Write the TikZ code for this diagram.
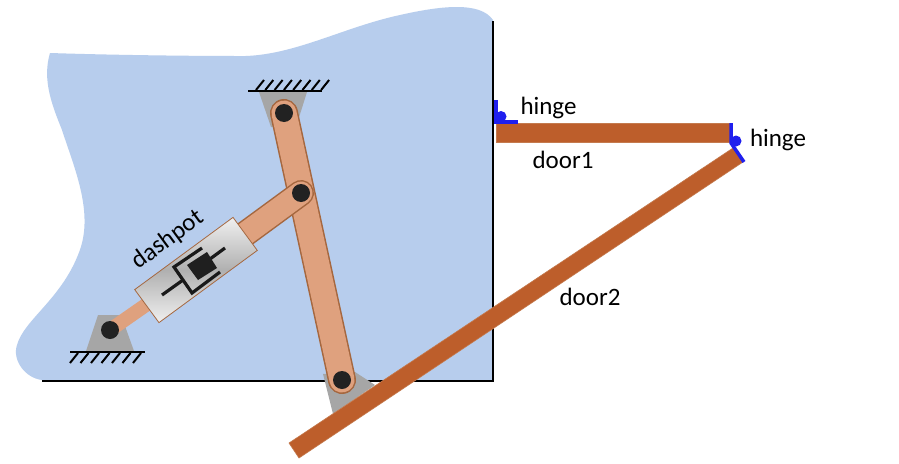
\documentclass[tikz,border=0pt]{standalone}
\usepackage{fontspec}
\setmainfont{Carlito}
\definecolor{regionblue}{HTML}{B7CDED}
\definecolor{linkfill}{HTML}{DFA17E}
\definecolor{linkedge}{HTML}{A5673F}
\definecolor{doorfill}{HTML}{BD5E2B}
\definecolor{doorEdge}{HTML}{C47A4E}
\definecolor{supportgray}{HTML}{A6A6A6}
\definecolor{pivotblack}{HTML}{222222}
\definecolor{hingeblue}{HTML}{1F1FEE}
\definecolor{dashmid}{HTML}{B0B0B0}
\definecolor{dashlight}{HTML}{F0F0F0}
\tikzset{
  x=1pt,y=-1pt,
  support/.style={fill=supportgray,draw=none},
  pivot/.style={circle,fill=pivotblack,draw=none,minimum size=18pt,inner sep=0pt},
  ground/.style={draw=black,line width=2.2pt},
  hatch/.style={draw=black,line width=2pt},
  wall/.style={draw=black,line width=2pt},
  door/.style={fill=doorfill,draw=doorEdge,line width=0.6pt},
  hingeline/.style={draw=hingeblue,line width=3.5pt},
  hingedot/.style={circle,fill=hingeblue,draw=none,inner sep=0pt},
  label/.style={inner sep=0pt,font=\fontsize{25}{25}\selectfont,text=black},
  symb/.style={draw=black!90,line width=3.2pt},
}
\newcommand{\linkbar}[3]{%
  \draw[linkedge,line width=#3pt,line cap=round] (#1)--(#2);
  \draw[linkfill,line width=\the\numexpr#3-3\relax pt,line cap=round] (#1)--(#2);}
\begin{document}
\begin{tikzpicture}
\useasboundingbox (0,0) rectangle (899,463);
\fill[white] (0,0) rectangle (899,463);
% region
\fill[regionblue] (50,53) .. controls (110,55) and (190,56) .. (235,56)
  .. controls (290,58) and (340,28) .. (400,15)
  .. controls (440,6) and (480,1) .. (493,20)
  -- (493,380) -- (42,380)
  .. controls (25,378) and (12,360) .. (17,345)
  .. controls (24,320) and (60,300) .. (78,255)
  .. controls (95,215) and (75,170) .. (62,130)
  .. controls (52,105) and (42,80) .. (50,53) -- cycle;
\draw[wall] (493,21) -- (493,381) -- (42,381);
% supports
\fill[support] (259,92) -- (307,92) -- (296,127) -- (271,127) -- cycle;
\fill[support] (98,315) -- (121,315) -- (134,351) -- (86,351) -- cycle;
\fill[support] (323,374) -- (355,372) -- (375,385) -- (333,414) -- cycle;
% ground symbols
\draw[ground] (248,91) -- (322,91);
\foreach \i in {0,...,7} \draw[hatch] (256+\i*9.3,90) -- (264+\i*9.3,80);
\draw[ground] (70,352) -- (145,352);
\foreach \i in {0,...,6} \draw[hatch] (78+\i*10.5,353) -- (70+\i*10.5,363);
% pivots' positions
\coordinate (pA) at (284,113);
\coordinate (pB) at (342,380);
\coordinate (pC) at (301,193);
\coordinate (pD) at (110,330);
\coordinate (dashc) at (196,270);
% links
\linkbar{pA}{pB}{28}
\draw[linkfill,line width=14pt,line cap=round] (pD) -- (dashc);
\linkbar{pC}{dashc}{26}
% dashpot body
\node[draw=linkedge,line width=0.8pt,minimum width=122pt,minimum height=41pt,inner sep=0pt,rotate=36.3,
  top color=dashlight,bottom color=dashlight,middle color=dashmid] (dash) at (dashc) {};
% dashpot symbol
\draw[symb] (202,248) -- (174,267) -- (192,293) -- (220,272);
\draw[symb] (162,295) -- (183,280);
\draw[symb] (210,259) -- (225,248);
\fill[black!88] (187,265) -- (207,252) -- (217,268) -- (198,280) -- cycle;
% pivots
\node[pivot] (nA) at (pA) {};
\node[pivot] (nB) at (pB) {};
\node[pivot] (nC) at (pC) {};
\node[pivot] (nD) at (pD) {};
% doors
\filldraw[door] (496,123) rectangle (731,142);
\filldraw[door] (289,443) -- (733,148) -- (743,162) -- (299,458) -- cycle;
% hinges
\draw[hingeline] (496,100) -- (496,122) -- (518,122);
\node[hingedot,minimum size=11pt] (h1) at (501,116.5) {};
\draw[hingeline] (731,123) -- (731,143) -- (744,162);
\node[hingedot,minimum size=11pt] (h2) at (736,141) {};
% labels
\node[label] (lh1) at (548.5,107.5) {hinge};
\node[label] (lh2) at (778,139.5) {hinge};
\node[label] (ld1) at (563,160) {door1};
\node[label] (ld2) at (590,297) {door2};
\node[label,rotate=36.3] (ldp) at (168,240) {dashpot};
\end{tikzpicture}
\end{document}
